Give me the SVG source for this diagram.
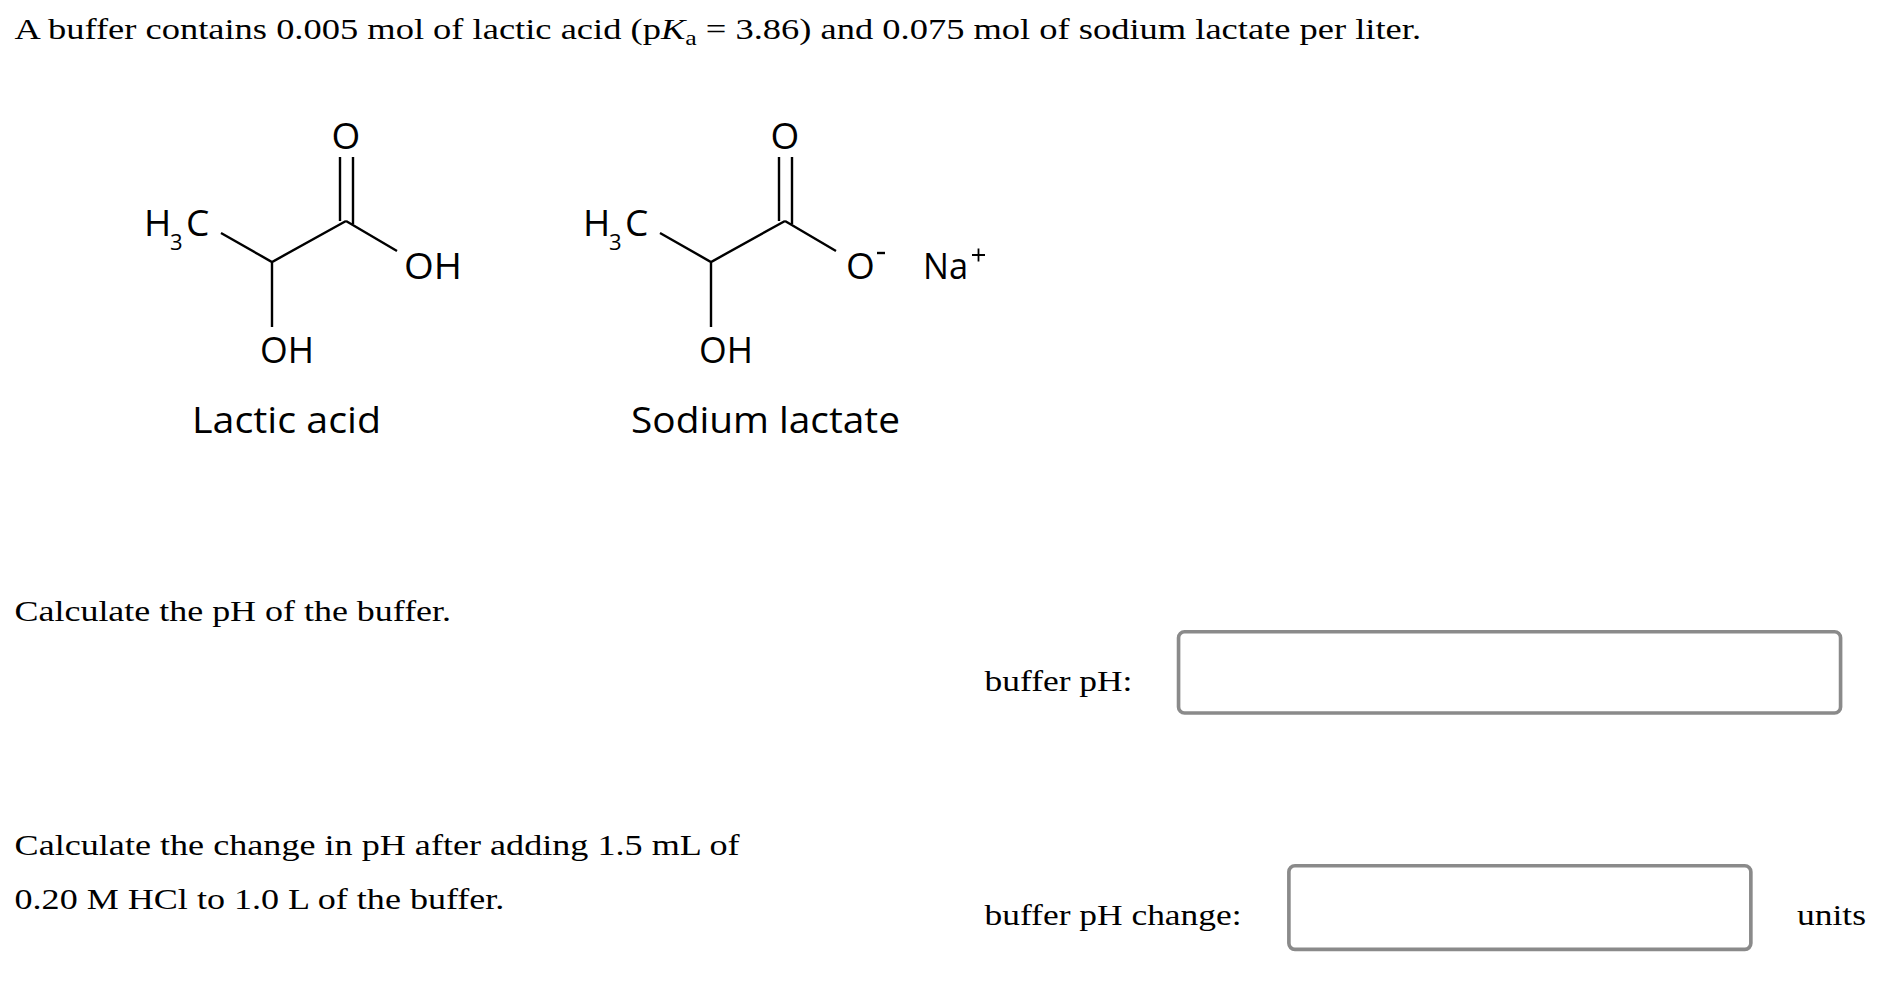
<svg xmlns="http://www.w3.org/2000/svg" width="1900" height="994" viewBox="0 0 1900 994">
<style>
.t{font-family:Times,'Times New Roman','Liberation Serif',Tinos,serif;font-size:24px;fill:#000}
.c{font-family:'Open Sans','Noto Sans',sans-serif;font-size:37px;fill:#000}
.s{font-family:'Open Sans','Noto Sans',sans-serif;font-size:22px;fill:#000}
.b{stroke:#000;stroke-width:2.4;fill:none}
.box{fill:#fff;stroke:#8a8a8a;stroke-width:3}
</style>
<rect width="1900" height="994" fill="#fff"/>
<g transform="scale(1.2125)">
<g id="title"><text class="t" x="12" y="32" textLength="1160" lengthAdjust="spacingAndGlyphs">A buffer contains 0.005 mol of lactic acid (p<tspan font-style="italic">K</tspan><tspan font-size="17" dy="5">a</tspan><tspan dy="-5"> = 3.86) and 0.075 mol of sodium lactate per liter.</tspan></text></g>
<g id="q1"><text class="t" x="12" y="512" textLength="360" lengthAdjust="spacingAndGlyphs">Calculate the pH of the buffer.</text></g>
<g id="q2"><text class="t" x="12" y="705" textLength="598" lengthAdjust="spacingAndGlyphs">Calculate the change in pH after adding 1.5 mL of</text>
<text class="t" x="12" y="750" textLength="404" lengthAdjust="spacingAndGlyphs">0.20 M HCl to 1.0 L of the buffer.</text></g>
<g id="a1"><text class="t" x="812" y="570" textLength="122" lengthAdjust="spacingAndGlyphs">buffer pH:</text>
<rect class="box" x="972" y="521" width="546" height="67" rx="5"/></g>
<g id="a2"><text class="t" x="812" y="763" textLength="212" lengthAdjust="spacingAndGlyphs">buffer pH change:</text>
<rect class="box" x="1063" y="714" width="381" height="69" rx="5"/>
<text class="t" x="1482" y="763" textLength="57" lengthAdjust="spacingAndGlyphs">units</text></g>
</g>
<g id="lactic-acid">
<path class="b" d="M340 157V221M353 157V224M346 221L397 251M346 221L272 262L221 233M272 262V327"/>
<text class="c" x="346" y="149" text-anchor="middle">O</text>
<text class="c" x="144" y="236">H</text><text class="s" x="170" y="250">3</text><text class="c" x="186" y="236">C</text>
<text class="c" x="404" y="279" textLength="58" lengthAdjust="spacingAndGlyphs">OH</text>
<text class="c" x="260" y="363" textLength="54" lengthAdjust="spacingAndGlyphs">OH</text>
<text class="c" x="192" y="433" textLength="189" lengthAdjust="spacingAndGlyphs">Lactic acid</text>
</g>
<g id="sodium-lactate">
<path class="b" d="M779 157V221M792 157V224M785 221L836 251M785 221L711 262L660 233M711 262V327"/>
<text class="c" x="785" y="149" text-anchor="middle">O</text>
<text class="c" x="583" y="236">H</text><text class="s" x="609" y="250">3</text><text class="c" x="625" y="236">C</text>
<text class="c" x="846" y="279">O</text>
<path class="b" d="M877 253H885"/>
<text class="c" x="923" y="279" textLength="45" lengthAdjust="spacingAndGlyphs">Na</text>
<path class="b" d="M972 255H985M978.5 248.5V261.5" style="stroke-width:1.8"/>
<text class="c" x="699" y="363" textLength="54" lengthAdjust="spacingAndGlyphs">OH</text>
<text class="c" x="631" y="433" textLength="269" lengthAdjust="spacingAndGlyphs">Sodium lactate</text>
</g>
<g id="connectors"/>
</svg>
